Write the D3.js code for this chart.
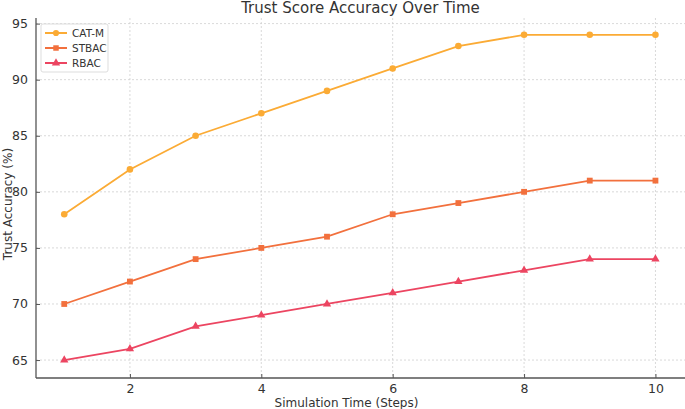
<!DOCTYPE html>
<html>
<head>
<meta charset="utf-8">
<script src="https://cdn.jsdelivr.net/npm/d3@7"></script>
<style>
  body { margin: 0; background: #fff; }
  svg { font-family: "DejaVu Sans", sans-serif; }
</style>
</head>
<body>
<svg id="chart" width="685" height="409"></svg>
<script>
const steps = [1, 2, 3, 4, 5, 6, 7, 8, 9, 10];
const catm = [78, 82, 85, 87, 89, 91, 93, 94, 94, 94];
const stbac = [70, 72, 74, 75, 76, 78, 79, 80, 81, 81];
const rbac = [65, 66, 68, 69, 70, 71, 72, 73, 74, 74];
const xTicks = [2, 4, 6, 8, 10];
const yTicks = [65, 70, 75, 80, 85, 90, 95];

const series = [
  { name: "CAT-M", values: catm, color: "#fbab35", symbol: d3.symbolCircle },
  { name: "STBAC", values: stbac, color: "#f2703d", symbol: d3.symbolSquare },
  { name: "RBAC", values: rbac, color: "#ec4561", symbol: d3.symbolTriangle }
];

const svg = d3.select("#chart");
const pLeft = 36, pRight = 685, pTop = 18, pBottom = 378;

const x = d3.scaleLinear().domain([0.57, 10.45]).range([pLeft, pRight]);
const y = d3.scaleLinear().domain([63.4, 95.5]).range([pBottom, pTop]);

// grid
const grid = svg.append("g");
grid.selectAll("line.gx")
  .data(xTicks)
  .join("line")
  .attr("class", "gx")
  .attr("x1", d => x(d)).attr("x2", d => x(d))
  .attr("y1", pTop).attr("y2", pBottom)
  .style("stroke", "#cfcfcf").style("stroke-width", 0.8)
  .style("stroke-dasharray", "2,2");
grid.selectAll("line.gy")
  .data(yTicks)
  .join("line")
  .attr("class", "gy")
  .attr("x1", pLeft).attr("x2", pRight)
  .attr("y1", d => y(d)).attr("y2", d => y(d))
  .style("stroke", "#cfcfcf").style("stroke-width", 0.8)
  .style("stroke-dasharray", "2,2");

// axes
const xAxis = svg.append("g")
  .attr("transform", `translate(0,${pBottom})`)
  .call(d3.axisBottom(x).tickValues(xTicks).tickSize(-4).tickPadding(6));
const yAxis = svg.append("g")
  .attr("transform", `translate(${pLeft},0)`)
  .call(d3.axisLeft(y).tickValues(yTicks).tickSize(-4).tickPadding(8));

[xAxis, yAxis].forEach(a => {
  a.select(".domain").style("stroke", "#555").style("stroke-width", 1.3);
  a.selectAll(".tick line").style("stroke", "#555");
  a.selectAll(".tick text")
    .style("font-family", "DejaVu Sans, sans-serif")
    .style("font-size", "12.5px")
    .style("fill", "#333");
});
// only left & bottom spines
xAxis.select(".domain").attr("d", `M${pLeft},0H${pRight}`);
yAxis.select(".domain").attr("d", `M0,${pTop}V${pBottom}`);

// lines & markers
const line = d3.line()
  .x((d, i) => x(steps[i]))
  .y(d => y(d));

series.forEach(s => {
  svg.append("path")
    .datum(s.values)
    .attr("d", line)
    .style("fill", "none")
    .style("stroke", s.color)
    .style("stroke-width", 1.8);

  svg.append("g")
    .selectAll("path")
    .data(s.values)
    .join("path")
    .attr("transform", (d, i) => `translate(${x(steps[i])},${y(d)})`)
    .attr("d", d3.symbol().type(s.symbol).size(s.symbol === d3.symbolTriangle ? 30 : 34))
    .style("fill", s.color);
});

// title & labels
svg.append("text")
  .attr("x", (pLeft + pRight) / 2).attr("y", 13)
  .attr("text-anchor", "middle")
  .style("font-size", "15px").style("fill", "#333")
  .text("Trust Score Accuracy Over Time");

svg.append("text")
  .attr("x", (pLeft + pRight) / 2 - 14).attr("y", 407)
  .attr("text-anchor", "middle")
  .style("font-size", "12px").style("fill", "#333")
  .text("Simulation Time (Steps)");

svg.append("text")
  .attr("transform", `translate(12,${(pTop + pBottom) / 2 + 6}) rotate(-90)`)
  .attr("text-anchor", "middle")
  .style("font-size", "12px").style("fill", "#333")
  .text("Trust Accuracy (%)");

// legend
const lg = svg.append("g").attr("transform", "translate(41,24)");
lg.append("rect")
  .attr("width", 67).attr("height", 48).attr("rx", 2)
  .style("fill", "#fff").style("fill-opacity", 0.85)
  .style("stroke", "#ddd");
series.forEach((s, i) => {
  const row = lg.append("g").attr("transform", `translate(0,${9 + i * 15})`);
  row.append("line")
    .attr("x1", 4).attr("x2", 26)
    .style("stroke", s.color).style("stroke-width", 2);
  row.append("path")
    .attr("transform", "translate(15,0)")
    .attr("d", d3.symbol().type(s.symbol).size(30))
    .style("fill", s.color);
  row.append("text")
    .attr("x", 31).attr("y", 4)
    .style("font-size", "10.5px").style("fill", "#333")
    .text(s.name);
});
</script>
</body>
</html>
